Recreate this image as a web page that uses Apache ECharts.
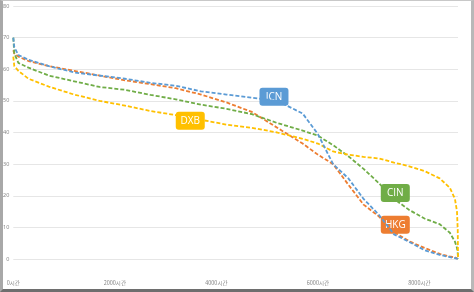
<!DOCTYPE html>
<html>
<head>
<meta charset="utf-8">
<script src="https://cdn.jsdelivr.net/npm/echarts@6/dist/echarts.min.js"></script>
<style>
  html, body { margin: 0; padding: 0; background: #fff; }
  #wrap { position: relative; width: 474px; height: 292px; }
  #main { width: 474px; height: 292px; }
  #frame {
    position: absolute; left: 0; top: 0; width: 474px; height: 292px;
    box-sizing: border-box; pointer-events: none;
    border-top: 1px solid #c8c8c8;
    border-left: 3px solid #a8a8a8;
    border-right: 3px solid #b8b8b8;
    border-bottom: 3px solid #6e6e6e;
  }
</style>
</head>
<body>
<div id="wrap">
  <div id="main"></div>
  <div id="frame"></div>
</div>
<script>
// 운영시간 (hours, sorted duration curve)
var hours = [0, 20, 100, 300, 700, 1200, 1700, 2200, 2700, 3200, 3700, 4200, 4700, 5200,
             5700, 6000, 6300, 6600, 6900, 7200, 7500, 7800, 8100, 8400, 8600, 8700, 8740, 8755, 8760];

var icn = [70, 67, 64.5, 63, 61, 59, 58, 57, 55.7, 54.8, 53, 52, 51, 50,
           46, 39.5, 30, 25.5, 19, 14, 7.8, 5.4, 2.8, 1.3, 0.6, 0.3, 0.1, 0, 0];
var hkg = [66, 65, 64, 62.6, 61, 59.5, 58, 56.5, 55.3, 54, 52, 49.5, 46.5, 41.5,
           36.5, 33, 30, 23.5, 17.2, 13.5, 8.5, 5.6, 3.5, 1.6, 0.8, 0.5, 0.2, 0, 0];
var cin = [70, 65, 62, 60.5, 58, 56.2, 54.4, 53.5, 51.9, 50.5, 48.8, 47.5, 45.8, 43,
           40.6, 39, 36, 32.5, 28.5, 24, 19, 15.5, 12.8, 11, 8.3, 5.5, 3.5, 1.8, 0];
var dxb = [64, 61, 59.5, 57, 54.5, 52, 50, 48.5, 46.8, 45.5, 44, 42.5, 41.5, 40,
           38, 36.5, 34, 33, 32.3, 31.8, 30.5, 29.3, 27.8, 25.5, 22.5, 19, 15, 9, 0];

var names = ['ICN', 'HKG', 'CIN', 'DXB'];
var colors = ['#5B9BD5', '#ED7D31', '#70AD47', '#FFC000'];
var values = [icn, hkg, cin, dxb];
// label anchor [hours, value] for each series tag
var tagPos = [[5135, 51.3], [7525, 10.8], [7525, 20.9], [3486, 43.7]];

var xTicks = ['0시간', '2000시간', '4000시간', '6000시간', '8000시간'];

var series = names.map(function (n, i) {
  return {
    name: n,
    type: 'line',
    symbol: 'none',
    z: i === 0 ? 5 : 3,
    lineStyle: { color: colors[i], width: 1.8, type: [4, 2] },
    data: hours.map(function (h, k) { return [h, values[i][k]]; }),
    markPoint: {
      symbol: 'rect',
      symbolSize: 0,
      silent: true,
      data: [{
        coord: tagPos[i],
        label: {
          show: true,
          position: 'inside',
          formatter: n,
          color: '#fff',
          fontFamily: 'Open Sans',
          fontSize: 10,
          backgroundColor: colors[i],
          borderRadius: 3,
          width: 29,
          height: 18,
          lineHeight: 18,
          align: 'center',
          verticalAlign: 'middle'
        }
      }]
    }
  };
});

var chart = echarts.init(document.getElementById('main'));
chart.setOption({
  animation: false,
  backgroundColor: '#fff',
  grid: { left: 13, right: 16, top: 6, bottom: 33, containLabel: false },
  xAxis: {
    type: 'value',
    min: 0,
    max: 8760,
    interval: 2000,
    axisLine: { show: false },
    axisTick: { show: false },
    splitLine: { show: false },
    axisLabel: {
      fontSize: 5.5,
      color: '#888',
      margin: 21,
      fontFamily: 'Noto Sans CJK KR',
      showMaxLabel: false,
      formatter: function (v) { return xTicks[v / 2000]; }
    }
  },
  yAxis: {
    type: 'value',
    min: 0,
    max: 80,
    interval: 10,
    axisLine: { show: false },
    axisTick: { show: false },
    axisLabel: { fontSize: 5.5, color: '#888', margin: 4, fontFamily: 'Noto Sans' },
    splitLine: { lineStyle: { color: '#e6e6e6', width: 1.2 } }
  },
  series: series
});
</script>
</body>
</html>
